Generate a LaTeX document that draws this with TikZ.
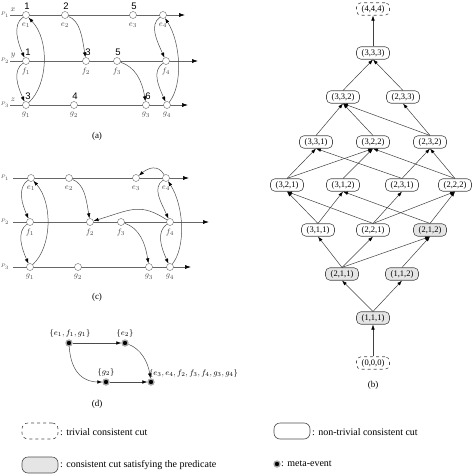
\documentclass[tikz,border=0pt]{standalone}
\usepackage{fontspec}
\setmainfont{Liberation Serif}
\newfontfamily\numfont{Liberation Sans}
\usetikzlibrary{arrows.meta}
\begin{document}
\begin{tikzpicture}[x=1pt,y=-1pt,
  proc/.style={black!60, line width=0.6pt, -{Latex[length=6pt,width=4pt,color=black]}},
  msg/.style={black!70, line width=0.5pt, -{Latex[length=5pt,width=3.5pt,color=black]}},
  ev/.style={circle, draw=black!60, fill=white, inner sep=0pt, minimum size=7pt},
  num/.style={font=\numfont\fontsize{9.5}{9.5}\selectfont, inner sep=0pt},
  evl/.style={font=\fontsize{8}{8}\selectfont, text=black!70, inner sep=0pt},
  varl/.style={font=\fontsize{8}{8}\selectfont, text=black!70, inner sep=0pt},
  procl/.style={font=\fontsize{5}{5}\selectfont, text=black!70, inner sep=0pt, anchor=west},
  captxt/.style={font=\fontsize{9}{9}\selectfont, inner sep=0pt},
  lat/.style={draw=black!70, line width=0.6pt, rounded corners=4.5pt, minimum width=33pt, minimum height=12.5pt, inner sep=1pt, font=\fontsize{8.5}{9}\selectfont},
  triv/.style={lat, dashed},
  pred/.style={lat, fill=black!10},
  edge/.style={black!75, line width=0.5pt, -{Latex[length=5pt,width=3.5pt,color=black]}},
  meta/.style={circle, fill=black, draw=black!35, line width=1.3pt, inner sep=0pt, minimum size=6pt},
  metal/.style={font=\fontsize{8}{8}\selectfont, inner sep=0pt},
  legt/.style={font=\fontsize{10}{11}\selectfont, inner sep=0pt, anchor=west}
]
\useasboundingbox (0,0) rectangle (474,474);

% ---------------- (a) ----------------
\coordinate (a1s) at (10,15);  \coordinate (a1t) at (185,15);
\coordinate (a2s) at (10,61);  \coordinate (a2t) at (198,61);
\coordinate (a3s) at (10,105); \coordinate (a3t) at (188,105);
\draw[proc] (a1s) -- (a1t);
\draw[proc] (a2s) -- (a2t);
\draw[proc] (a3s) -- (a3t);
\node[procl] (aP1) at (0.5,15) {$P_1$};
\node[procl] (aP2) at (0.5,61) {$P_2$};
\node[procl] (aP3) at (0.5,105) {$P_3$};
\node[varl] (ax) at (13,10) {$x$};
\node[varl] (ay) at (13,56) {$y$};
\node[varl] (az) at (13,100) {$z$};

\node[ev] (ae1) at (26,15) {};
\node[ev] (ae2) at (65,15) {};
\node[ev] (ae3) at (133,15) {};
\node[ev] (ae4) at (163,15) {};
\node[ev] (af1) at (26,61) {};
\node[ev] (af2) at (86,61) {};
\node[ev] (af3) at (117,61) {};
\node[ev] (af4) at (166,61) {};
\node[ev] (ag1) at (26,105) {};
\node[ev] (ag2) at (74,105) {};
\node[ev] (ag3) at (146,105) {};
\node[ev] (ag4) at (167,105) {};

\node[evl] (lae1) at (26,25) {$e_1$};
\node[evl] (lae2) at (65,25) {$e_2$};
\node[evl] (lae3) at (133,25) {$e_3$};
\node[evl] (lae4) at (163,25) {$e_4$};
\node[evl] (laf1) at (26,71) {$f_1$};
\node[evl] (laf2) at (86,71) {$f_2$};
\node[evl] (laf3) at (117,71) {$f_3$};
\node[evl] (laf4) at (166,71) {$f_4$};
\node[evl] (lag1) at (26,115) {$g_1$};
\node[evl] (lag2) at (74,115) {$g_2$};
\node[evl] (lag3) at (146,115) {$g_3$};
\node[evl] (lag4) at (167,115) {$g_4$};

\node[num] (nae1) at (27,6) {1};
\node[num] (nae2) at (66,6) {2};
\node[num] (nae3) at (134,6) {5};
\node[num] (naf1) at (28,52) {1};
\node[num] (naf2) at (88,52) {3};
\node[num] (naf3) at (118,52) {5};
\node[num] (nag1) at (28,96) {3};
\node[num] (nag2) at (75,96) {4};
\node[num] (nag3) at (148,96) {6};

\draw[msg] (ae1) .. controls +(-14,10) and +(-8,-18) .. (af1);
\draw[msg] (af1) .. controls +(-14,10) and +(-8,-18) .. (ag1);
\draw[msg] (ag1) .. controls +(22,-20) and +(24,25) .. (ae1);
\draw[msg] (ae2) .. controls +(15,6) and +(-4,-25) .. (af2);
\draw[msg] (af3) .. controls +(18,6) and +(-4,-25) .. (ag3);
\draw[msg] (ae4) .. controls +(-14,10) and +(-9,-20) .. (af4);
\draw[msg] (af4) .. controls +(-14,10) and +(-9,-20) .. (ag4);
\draw[msg] (ag4) .. controls +(16,-20) and +(18,28) .. (ae4);

\node[captxt] (capa) at (97,136) {(a)};

% ---------------- (c) ----------------
\coordinate (c1s) at (13,178); \coordinate (c1t) at (189,178);
\coordinate (c2s) at (13,222); \coordinate (c2t) at (209,222);
\coordinate (c3s) at (13,267); \coordinate (c3t) at (191,267);
\draw[proc] (c1s) -- (c1t);
\draw[proc] (c2s) -- (c2t);
\draw[proc] (c3s) -- (c3t);
\node[procl] (cP1) at (0.5,178) {$P_1$};
\node[procl] (cP2) at (0.5,222) {$P_2$};
\node[procl] (cP3) at (0.5,267) {$P_3$};

\node[ev] (ce1) at (31,178) {};
\node[ev] (ce2) at (69,178) {};
\node[ev] (ce3) at (136,178) {};
\node[ev] (ce4) at (166,178) {};
\node[ev] (cf1) at (30,222) {};
\node[ev] (cf2) at (90,222) {};
\node[ev] (cf3) at (121,222) {};
\node[ev] (cf4) at (170,222) {};
\node[ev] (cg1) at (30,267) {};
\node[ev] (cg2) at (78,267) {};
\node[ev] (cg3) at (149,267) {};
\node[ev] (cg4) at (170,267) {};

\node[evl] (lce1) at (31,188) {$e_1$};
\node[evl] (lce2) at (69,188) {$e_2$};
\node[evl] (lce3) at (136,188) {$e_3$};
\node[evl] (lce4) at (166,188) {$e_4$};
\node[evl] (lcf1) at (30,232) {$f_1$};
\node[evl] (lcf2) at (90,232) {$f_2$};
\node[evl] (lcf3) at (121,232) {$f_3$};
\node[evl] (lcf4) at (170,232) {$f_4$};
\node[evl] (lcg1) at (30,277) {$g_1$};
\node[evl] (lcg2) at (78,277) {$g_2$};
\node[evl] (lcg3) at (149,277) {$g_3$};
\node[evl] (lcg4) at (170,277) {$g_4$};

\draw[msg] (ce1) .. controls +(-14,10) and +(-8,-18) .. (cf1);
\draw[msg] (cf1) .. controls +(-14,10) and +(-8,-18) .. (cg1);
\draw[msg] (cg1) .. controls +(22,-20) and +(22,25) .. (ce1);
\draw[msg] (ce2) .. controls +(15,6) and +(-4,-25) .. (cf2);
\draw[msg] (cf3) .. controls +(18,6) and +(-4,-25) .. (cg3);
\draw[msg] (ce4) .. controls +(-8,-14) and +(12,-10) .. (ce3);
\draw[msg] (cf4) .. controls +(-30,-20) and +(40,-12) .. (cf2);
\draw[msg] (ce4) .. controls +(-14,10) and +(-9,-20) .. (cf4);
\draw[msg] (cf4) .. controls +(-14,10) and +(-9,-20) .. (cg4);
\draw[msg] (cg4) .. controls +(16,-20) and +(18,28) .. (ce4);

\node[captxt] (capc) at (97,297) {(c)};

% ---------------- (d) ----------------
\node[meta] (dA) at (69,343) {};
\node[meta] (dB) at (125,343) {};
\node[meta] (dC) at (106,382) {};
\node[meta] (dD) at (151,382) {};
\node[metal] (ldA) at (70,333) {$\{e_1,f_1,g_1\}$};
\node[metal] (ldB) at (125,333) {$\{e_2\}$};
\node[metal] (ldC) at (106,372) {$\{g_2\}$};
\node[metal, anchor=west] (ldD) at (149,373) {$\{e_3,e_4,f_2,f_3,f_4,g_3,g_4\}$};
\draw[msg] (dA) -- (dB);
\draw[msg] (dC) -- (dD);
\draw[msg] (dA) .. controls +(2,32) and +(-20,0) .. (dC);
\draw[msg] (dB) .. controls +(16,6) and +(-3,-20) .. (dD);
\node[captxt] (capd) at (97,404) {(d)};

% ---------------- (b) ----------------
\node[triv] (n444) at (373,9) {(4,4,4)};
\node[lat] (n333) at (373,53) {(3,3,3)};
\node[lat] (n332) at (343,97) {(3,3,2)};
\node[lat] (n233) at (403,97) {(2,3,3)};
\node[lat] (n331) at (316,142) {(3,3,1)};
\node[lat] (n322) at (373,142) {(3,2,2)};
\node[lat] (n232) at (430,142) {(2,3,2)};
\node[lat] (n321) at (287,185) {(3,2,1)};
\node[lat] (n312) at (343,185) {(3,1,2)};
\node[lat] (n231) at (402,185) {(2,3,1)};
\node[lat] (n222) at (455,185) {(2,2,2)};
\node[lat] (n311) at (318,230) {(3,1,1)};
\node[lat] (n221) at (373,230) {(2,2,1)};
\node[pred] (n212) at (430,230) {(2,1,2)};
\node[pred] (n211) at (342,274) {(2,1,1)};
\node[pred] (n112) at (402,274) {(1,1,2)};
\node[pred] (n111) at (373,318) {(1,1,1)};
\node[triv] (n000) at (373,363) {(0,0,0)};
\node[captxt] (capb) at (373,385) {(b)};

\draw[edge] (n000.north) -- (n111.south);
\draw[edge] (n111.north) -- (n211.south);
\draw[edge] (n111.north) -- (n112.south);
\draw[edge] (n211.north) -- (n311.south);
\draw[edge] (n211.north) -- (n221.south);
\draw[edge] (n211.north) -- (n212.south);
\draw[edge] (n112.north) -- (n212.south);
\draw[edge] (n311.north) -- (n321.south);
\draw[edge] (n311.north) -- (n312.south);
\draw[edge] (n221.north) -- (n321.south);
\draw[edge] (n221.north) -- (n231.south);
\draw[edge] (n221.north) -- (n222.south);
\draw[edge] (n212.north) -- (n312.south);
\draw[edge] (n212.north) -- (n222.south);
\draw[edge] (n321.north) -- (n331.south);
\draw[edge] (n321.north) -- (n322.south);
\draw[edge] (n312.north) -- (n322.south);
\draw[edge] (n231.north) -- (n331.south);
\draw[edge] (n231.north) -- (n232.south);
\draw[edge] (n222.north) -- (n322.south);
\draw[edge] (n222.north) -- (n232.south);
\draw[edge] (n331.north) -- (n332.south);
\draw[edge] (n322.north) -- (n332.south);
\draw[edge] (n232.north) -- (n332.south);
\draw[edge] (n232.north) -- (n233.south);
\draw[edge] (n332.north) -- (n333.south);
\draw[edge] (n233.north) -- (n333.south);
\draw[edge] (n333.north) -- (n444.south);

% ---------------- legend ----------------
\node[triv, minimum width=36pt, minimum height=16pt, rounded corners=6pt] (lg1) at (40,431) {};
\node[legt] (lg1t) at (60,432) {: trivial consistent cut};
\node[lat, minimum width=36pt, minimum height=16pt, rounded corners=6pt] (lg2) at (292,431) {};
\node[legt] (lg2t) at (312,432) {: non-trivial consistent cut};
\node[pred, minimum width=36pt, minimum height=16pt, rounded corners=6pt] (lg3) at (40,465) {};
\node[legt] (lg3t) at (60,465) {: consistent cut satisfying the predicate};
\node[meta] (lg4) at (277,464) {};
\node[legt] (lg4t) at (281,464) {: meta-event};
\end{tikzpicture}
\end{document}
